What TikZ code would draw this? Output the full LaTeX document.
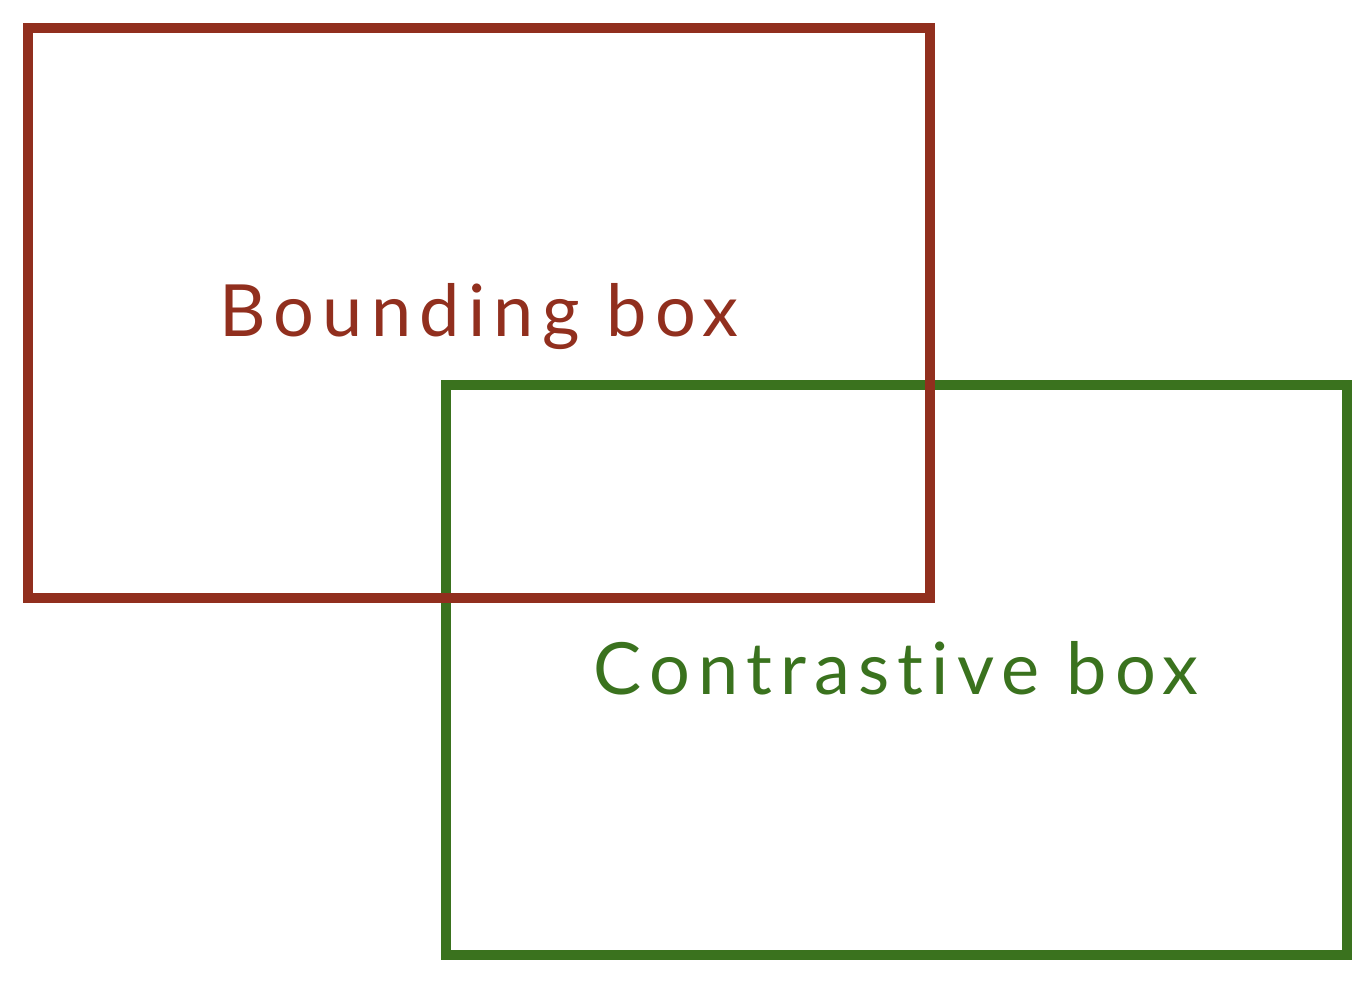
\documentclass[tikz,border=0pt]{standalone}
\usepackage{fontspec}
\setmainfont{Lato}[LetterSpace=11.5, Ligatures=NoCommon]
\usepackage{xcolor}
\usepackage{tikz}
\usetikzlibrary{positioning}

\definecolor{boxred}{HTML}{912F1E}
\definecolor{boxgreen}{HTML}{3A721E}

\tikzset{
  framebox/.style={draw, line width=5.7pt, minimum width=18.04cm, minimum height=11.4cm, inner sep=0pt},
  boxlabel/.style={font=\fontsize{41}{48}\selectfont, anchor=base, inner sep=0pt}
}

\begin{document}
\begin{tikzpicture}[x=0.02cm, y=-0.02cm]
  \useasboundingbox (0,0) rectangle (1368,984);
  \node[framebox, boxgreen] (cbox) at (896.5,670) {};
  \node[framebox, boxred] (bbox) at (479,313) {};
  \node[boxlabel, text=boxred] (blabel) at (479,336) {Bounding box};
  \node[boxlabel, text=boxgreen] (clabel) at (896,694) {Contrastive box};
\end{tikzpicture}
\end{document}
